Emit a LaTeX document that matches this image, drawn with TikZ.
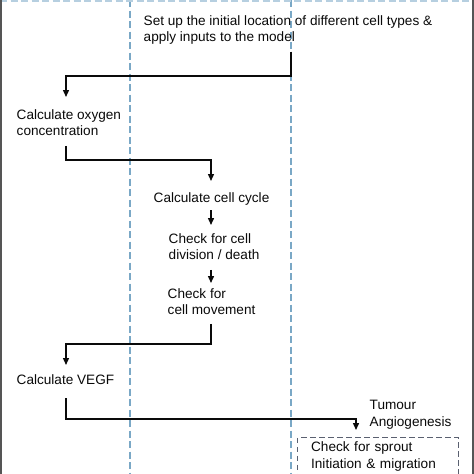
\documentclass[tikz,border=0pt]{standalone}
\usepackage{fontspec}
\setmainfont{Liberation Sans}
\usetikzlibrary{arrows.meta}
\definecolor{lane}{HTML}{7AA8C6}
\definecolor{boxgray}{HTML}{5A6070}
\definecolor{framegray}{HTML}{555555}
\definecolor{ink}{HTML}{0A0A0A}
\begin{document}
\begin{tikzpicture}[x=1pt,y=1pt,
  txt/.style={anchor=north west, inner sep=0pt, align=left, font=\fontsize{13.6}{16.5}\selectfont, text=ink},
  conn/.style={draw=ink, line width=1.4pt},
  arr/.style={conn, -{Triangle[length=7pt,width=6pt]}},
  lanes/.style={draw=lane, line width=1.1pt, dash pattern=on 7pt off 3.5pt},
  ]
\useasboundingbox (0,0) rectangle (474,-474);
\clip (0,0) rectangle (474,-474);
\fill[white] (0,0) rectangle (474,-474);
% swimlane guides
\draw[lanes] (130,0) -- (130,-474);
\draw[lanes] (291,0) -- (291,-474);
\draw[lanes, draw=lane!55] (0,-1) -- (474,-1);
% frame edges
\fill[framegray] (0,0) rectangle (2.2,-474);
\fill[framegray] (471.5,0) rectangle (474,-474);
% steps
\node[txt] (setup) at (143.5,-15) {Set up the initial location of different cell types \&\\apply inputs to the model};
\node[txt] (oxy) at (16.5,-109) {Calculate oxygen\\concentration};
\node[txt] (cycle) at (153.5,-192) {Calculate cell cycle};
\node[txt] (div) at (168.5,-233) {Check for cell\\division / death};
\node[txt] (mov) at (167.5,-288) {Check for\\cell movement};
\node[txt] (vegf) at (16.5,-374) {Calculate VEGF};
\node[txt] (tum) at (369.5,-400) {Tumour\\Angiogenesis};
\node[txt, draw=boxgray, line width=1.3pt, dash pattern=on 5.5pt off 3.5pt,
      inner xsep=13.5pt, inner ysep=4pt, text width=134pt, text depth=20pt] (box) at (297,-437)
      {Check for sprout\\Initiation \& migration};
% connectors
\coordinate (c1) at (291,-76); \coordinate (c2) at (66,-76);
\draw[arr, shorten <=7pt, shorten >=12pt] (setup.south -| c1) -- (c1) -- (c2) -- (oxy.north -| c2);
\coordinate (c3) at (66,-160); \coordinate (c4) at (211,-160);
\draw[arr, shorten <=10pt, shorten >=11pt] (oxy.south -| c3) -- (c3) -- (c4) -- (cycle.north -| c4);
\draw[arr, shorten <=5pt, shorten >=8pt] (cycle.south -| c4) -- (div.north -| c4);
\draw[arr, shorten <=10pt, shorten >=5pt] (div.south -| c4) -- (mov.north -| c4);
\coordinate (c5) at (211,-344); \coordinate (c6) at (66,-344);
\draw[arr, shorten <=9pt, shorten >=9pt] (mov.south -| c5) -- (c5) -- (c6) -- (vegf.north -| c6);
\coordinate (c7) at (66,-419); \coordinate (c8) at (356,-419);
\draw[arr, shorten <=14pt, shorten >=7pt] (vegf.south -| c7) -- (c7) -- (c8) -- (box.north -| c8);
\end{tikzpicture}
\end{document}
